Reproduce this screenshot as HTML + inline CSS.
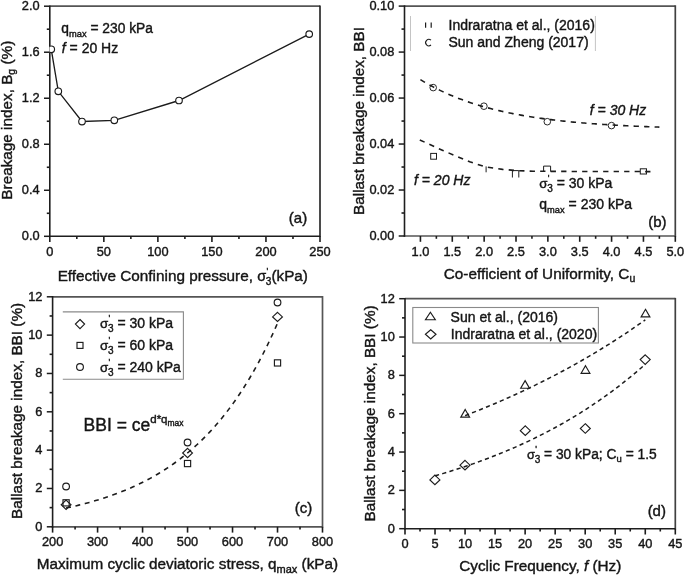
<!DOCTYPE html>
<html><head><meta charset="utf-8"><style>
html,body{margin:0;padding:0;background:#fff;}
body{width:685px;height:576px;overflow:hidden;}
svg{display:block;filter:blur(0.35px);}
text{font-family:"Liberation Sans", Arial, sans-serif;fill:#151515;stroke:#151515;stroke-width:0.4px;}
</style></head><body>
<svg width="685" height="576" viewBox="0 0 685 576">
<path d="M49.80 6.20H320.00" stroke="#555555" stroke-width="1.7"/>
<path d="M320.00 5.40V237.10" stroke="#1e1e1e" stroke-width="1.6"/>
<path d="M49.00 236.30H320.00" stroke="#1e1e1e" stroke-width="1.6"/>
<path d="M49.80 5.40V237.10" stroke="#1e1e1e" stroke-width="1.6"/>
<line x1="49.80" y1="236.30" x2="49.80" y2="242.10" stroke="#1c1c1c" stroke-width="1.6"/>
<line x1="103.84" y1="236.30" x2="103.84" y2="242.10" stroke="#1c1c1c" stroke-width="1.6"/>
<line x1="157.88" y1="236.30" x2="157.88" y2="242.10" stroke="#1c1c1c" stroke-width="1.6"/>
<line x1="211.92" y1="236.30" x2="211.92" y2="242.10" stroke="#1c1c1c" stroke-width="1.6"/>
<line x1="265.96" y1="236.30" x2="265.96" y2="242.10" stroke="#1c1c1c" stroke-width="1.6"/>
<line x1="320.00" y1="236.30" x2="320.00" y2="242.10" stroke="#1c1c1c" stroke-width="1.6"/>
<line x1="76.82" y1="236.30" x2="76.82" y2="239.10" stroke="#1c1c1c" stroke-width="1.6"/>
<line x1="130.86" y1="236.30" x2="130.86" y2="239.10" stroke="#1c1c1c" stroke-width="1.6"/>
<line x1="184.90" y1="236.30" x2="184.90" y2="239.10" stroke="#1c1c1c" stroke-width="1.6"/>
<line x1="238.94" y1="236.30" x2="238.94" y2="239.10" stroke="#1c1c1c" stroke-width="1.6"/>
<line x1="292.98" y1="236.30" x2="292.98" y2="239.10" stroke="#1c1c1c" stroke-width="1.6"/>
<text x="49.80" y="255.80" text-anchor="middle" font-size="12.8">0</text>
<text x="103.84" y="255.80" text-anchor="middle" font-size="12.8">50</text>
<text x="157.88" y="255.80" text-anchor="middle" font-size="12.8">100</text>
<text x="211.92" y="255.80" text-anchor="middle" font-size="12.8">150</text>
<text x="265.96" y="255.80" text-anchor="middle" font-size="12.8">200</text>
<text x="320.00" y="255.80" text-anchor="middle" font-size="12.8">250</text>
<line x1="49.80" y1="236.30" x2="44.00" y2="236.30" stroke="#1c1c1c" stroke-width="1.5"/>
<line x1="49.80" y1="190.28" x2="44.00" y2="190.28" stroke="#1c1c1c" stroke-width="1.5"/>
<line x1="49.80" y1="144.26" x2="44.00" y2="144.26" stroke="#1c1c1c" stroke-width="1.5"/>
<line x1="49.80" y1="98.24" x2="44.00" y2="98.24" stroke="#1c1c1c" stroke-width="1.5"/>
<line x1="49.80" y1="52.22" x2="44.00" y2="52.22" stroke="#1c1c1c" stroke-width="1.5"/>
<line x1="49.80" y1="6.20" x2="44.00" y2="6.20" stroke="#1c1c1c" stroke-width="1.5"/>
<line x1="49.80" y1="213.29" x2="46.80" y2="213.29" stroke="#1c1c1c" stroke-width="1.6"/>
<line x1="49.80" y1="167.27" x2="46.80" y2="167.27" stroke="#1c1c1c" stroke-width="1.6"/>
<line x1="49.80" y1="121.25" x2="46.80" y2="121.25" stroke="#1c1c1c" stroke-width="1.6"/>
<line x1="49.80" y1="75.23" x2="46.80" y2="75.23" stroke="#1c1c1c" stroke-width="1.6"/>
<line x1="49.80" y1="29.21" x2="46.80" y2="29.21" stroke="#1c1c1c" stroke-width="1.6"/>
<text x="39.60" y="240.20" text-anchor="end" font-size="12.8">0.0</text>
<text x="39.60" y="194.18" text-anchor="end" font-size="12.8">0.4</text>
<text x="39.60" y="148.16" text-anchor="end" font-size="12.8">0.8</text>
<text x="39.60" y="102.14" text-anchor="end" font-size="12.8">1.2</text>
<text x="39.60" y="56.12" text-anchor="end" font-size="12.8">1.6</text>
<text x="39.60" y="10.10" text-anchor="end" font-size="12.8">2.0</text>
<clipPath id="ca"><rect x="49.4" y="7.1" width="269.7" height="228.3"/></clipPath><g clip-path="url(#ca)">
<path d="M51.25 49.30L58.30 91.30L82.00 121.50L114.30 120.30L179.00 100.50L309.20 34.10" fill="none" stroke="#1c1c1c" stroke-width="1.35"/>
<circle cx="51.25" cy="49.30" r="3.3" fill="#fff" stroke="#1c1c1c" stroke-width="1.15"/>
<circle cx="58.30" cy="91.30" r="3.3" fill="#fff" stroke="#1c1c1c" stroke-width="1.15"/>
<circle cx="82.00" cy="121.50" r="3.3" fill="#fff" stroke="#1c1c1c" stroke-width="1.15"/>
<circle cx="114.30" cy="120.30" r="3.3" fill="#fff" stroke="#1c1c1c" stroke-width="1.15"/>
<circle cx="179.00" cy="100.50" r="3.3" fill="#fff" stroke="#1c1c1c" stroke-width="1.15"/>
<circle cx="309.20" cy="34.10" r="3.3" fill="#fff" stroke="#1c1c1c" stroke-width="1.15"/>
</g>
<text x="61.30" y="33.00" font-size="13.8" text-anchor="start" >q<tspan font-size="9.3" dy="3.6">max</tspan><tspan dy="-3.6"> = 230 kPa</tspan></text>
<text x="61.80" y="52.70" font-size="14" text-anchor="start" ><tspan font-style="italic">f</tspan> = 20 Hz</text>
<text x="298.00" y="223.30" font-size="15" text-anchor="middle" >(a)</text>
<text x="182.80" y="280.60" font-size="15.3" text-anchor="middle" >Effective Confining pressure, <tspan font-size="14.5">σ</tspan><tspan font-size="9" dy="-7" dx="0.3">'</tspan><tspan font-size="10" dy="11" dx="-2.3">3</tspan><tspan dy="-4">(kPa)</tspan></text>
<text transform="translate(11.80,120.20) rotate(-90)" font-size="15.3" text-anchor="middle">Breakage index, B<tspan font-size="10.5" dy="3">g</tspan><tspan dy="-3"> (%)</tspan></text>
<path d="M404.50 6.10H675.30" stroke="#555555" stroke-width="1.7"/>
<path d="M675.30 5.30V236.80" stroke="#404040" stroke-width="1.7"/>
<path d="M403.70 236.00H675.30" stroke="#555555" stroke-width="1.7"/>
<path d="M404.50 5.30V236.80" stroke="#1e1e1e" stroke-width="1.6"/>
<line x1="420.43" y1="236.00" x2="420.43" y2="241.80" stroke="#1c1c1c" stroke-width="1.6"/>
<line x1="452.29" y1="236.00" x2="452.29" y2="241.80" stroke="#1c1c1c" stroke-width="1.6"/>
<line x1="484.15" y1="236.00" x2="484.15" y2="241.80" stroke="#1c1c1c" stroke-width="1.6"/>
<line x1="516.01" y1="236.00" x2="516.01" y2="241.80" stroke="#1c1c1c" stroke-width="1.6"/>
<line x1="547.86" y1="236.00" x2="547.86" y2="241.80" stroke="#1c1c1c" stroke-width="1.6"/>
<line x1="579.72" y1="236.00" x2="579.72" y2="241.80" stroke="#1c1c1c" stroke-width="1.6"/>
<line x1="611.58" y1="236.00" x2="611.58" y2="241.80" stroke="#1c1c1c" stroke-width="1.6"/>
<line x1="643.44" y1="236.00" x2="643.44" y2="241.80" stroke="#1c1c1c" stroke-width="1.6"/>
<line x1="675.30" y1="236.00" x2="675.30" y2="241.80" stroke="#1c1c1c" stroke-width="1.6"/>
<line x1="436.36" y1="236.00" x2="436.36" y2="238.80" stroke="#1c1c1c" stroke-width="1.6"/>
<line x1="468.22" y1="236.00" x2="468.22" y2="238.80" stroke="#1c1c1c" stroke-width="1.6"/>
<line x1="500.08" y1="236.00" x2="500.08" y2="238.80" stroke="#1c1c1c" stroke-width="1.6"/>
<line x1="531.94" y1="236.00" x2="531.94" y2="238.80" stroke="#1c1c1c" stroke-width="1.6"/>
<line x1="563.79" y1="236.00" x2="563.79" y2="238.80" stroke="#1c1c1c" stroke-width="1.6"/>
<line x1="595.65" y1="236.00" x2="595.65" y2="238.80" stroke="#1c1c1c" stroke-width="1.6"/>
<line x1="627.51" y1="236.00" x2="627.51" y2="238.80" stroke="#1c1c1c" stroke-width="1.6"/>
<line x1="659.37" y1="236.00" x2="659.37" y2="238.80" stroke="#1c1c1c" stroke-width="1.6"/>
<text x="420.43" y="255.50" text-anchor="middle" font-size="12.8">1.0</text>
<text x="452.29" y="255.50" text-anchor="middle" font-size="12.8">1.5</text>
<text x="484.15" y="255.50" text-anchor="middle" font-size="12.8">2.0</text>
<text x="516.01" y="255.50" text-anchor="middle" font-size="12.8">2.5</text>
<text x="547.86" y="255.50" text-anchor="middle" font-size="12.8">3.0</text>
<text x="579.72" y="255.50" text-anchor="middle" font-size="12.8">3.5</text>
<text x="611.58" y="255.50" text-anchor="middle" font-size="12.8">4.0</text>
<text x="643.44" y="255.50" text-anchor="middle" font-size="12.8">4.5</text>
<text x="675.30" y="255.50" text-anchor="middle" font-size="12.8">5.0</text>
<line x1="404.50" y1="236.00" x2="398.70" y2="236.00" stroke="#1c1c1c" stroke-width="1.5"/>
<line x1="404.50" y1="190.02" x2="398.70" y2="190.02" stroke="#1c1c1c" stroke-width="1.5"/>
<line x1="404.50" y1="144.04" x2="398.70" y2="144.04" stroke="#1c1c1c" stroke-width="1.5"/>
<line x1="404.50" y1="98.06" x2="398.70" y2="98.06" stroke="#1c1c1c" stroke-width="1.5"/>
<line x1="404.50" y1="52.08" x2="398.70" y2="52.08" stroke="#1c1c1c" stroke-width="1.5"/>
<line x1="404.50" y1="6.10" x2="398.70" y2="6.10" stroke="#1c1c1c" stroke-width="1.5"/>
<line x1="404.50" y1="213.01" x2="401.50" y2="213.01" stroke="#1c1c1c" stroke-width="1.6"/>
<line x1="404.50" y1="167.03" x2="401.50" y2="167.03" stroke="#1c1c1c" stroke-width="1.6"/>
<line x1="404.50" y1="121.05" x2="401.50" y2="121.05" stroke="#1c1c1c" stroke-width="1.6"/>
<line x1="404.50" y1="75.07" x2="401.50" y2="75.07" stroke="#1c1c1c" stroke-width="1.6"/>
<line x1="404.50" y1="29.09" x2="401.50" y2="29.09" stroke="#1c1c1c" stroke-width="1.6"/>
<text x="394.30" y="239.90" text-anchor="end" font-size="12.8">0.00</text>
<text x="394.30" y="193.92" text-anchor="end" font-size="12.8">0.02</text>
<text x="394.30" y="147.94" text-anchor="end" font-size="12.8">0.04</text>
<text x="394.30" y="101.96" text-anchor="end" font-size="12.8">0.06</text>
<text x="394.30" y="55.98" text-anchor="end" font-size="12.8">0.08</text>
<text x="394.30" y="10.00" text-anchor="end" font-size="12.8">0.10</text>
<line x1="410.5" y1="16" x2="410.5" y2="51" stroke="#c4c4c4" stroke-width="1"/>
<line x1="595.4" y1="16" x2="595.4" y2="51" stroke="#c4c4c4" stroke-width="1"/>
<line x1="425.6" y1="22.6" x2="425.6" y2="27.8" stroke="#1c1c1c" stroke-width="1.2"/>
<line x1="431.2" y1="22.6" x2="431.2" y2="27.8" stroke="#1c1c1c" stroke-width="1.2"/>
<path d="M431.0 40.2 A3.2 3.2 0 1 0 431.0 45.0" fill="none" stroke="#1c1c1c" stroke-width="1.1"/>
<text x="448.50" y="30.20" font-size="14" text-anchor="start" >Indraratna et al., (2016)</text>
<text x="448.50" y="47.30" font-size="14" text-anchor="start" >Sun and Zheng (2017)</text>
<path d="M420.43 79.67L422.02 80.64L423.62 81.58L425.21 82.52L426.80 83.43L428.39 84.32L429.99 85.20L431.58 86.06L433.17 86.91L434.77 87.74L436.36 88.55L437.95 89.34L439.54 90.12L441.14 90.89L442.73 91.64L444.32 92.38L445.92 93.10L447.51 93.81L449.10 94.50L450.70 95.19L452.29 95.85L453.88 96.51L455.47 97.15L457.07 97.78L458.66 98.40L460.25 99.01L461.85 99.60L463.44 100.18L465.03 100.75L466.62 101.32L468.22 101.87L469.81 102.40L471.40 102.93L473.00 103.45L474.59 103.96L476.18 104.46L477.78 104.95L479.37 105.43L480.96 105.90L482.55 106.36L484.15 106.81L485.74 107.26L487.33 107.69L488.93 108.12L490.52 108.54L492.11 108.95L493.70 109.35L495.30 109.74L496.89 110.13L498.48 110.51L500.08 110.88L501.67 111.25L503.26 111.61L504.86 111.96L506.45 112.30L508.04 112.64L509.63 112.97L511.23 113.29L512.82 113.61L514.41 113.92L516.01 114.23L517.60 114.53L519.19 114.83L520.78 115.12L522.38 115.40L523.97 115.68L525.56 115.95L527.16 116.22L528.75 116.48L530.34 116.73L531.94 116.99L533.53 117.23L535.12 117.48L536.71 117.71L538.31 117.95L539.90 118.18L541.49 118.40L543.09 118.62L544.68 118.84L546.27 119.05L547.86 119.25L549.46 119.46L551.05 119.66L552.64 119.85L554.24 120.04L555.83 120.23L557.42 120.42L559.02 120.60L560.61 120.78L562.20 120.95L563.79 121.12L565.39 121.29L566.98 121.45L568.57 121.61L570.17 121.77L571.76 121.93L573.35 122.08L574.94 122.23L576.54 122.37L578.13 122.52L579.72 122.66L581.32 122.79L582.91 122.93L584.50 123.06L586.10 123.19L587.69 123.32L589.28 123.44L590.87 123.57L592.47 123.69L594.06 123.80L595.65 123.92L597.25 124.03L598.84 124.14L600.43 124.25L602.02 124.36L603.62 124.46L605.21 124.57L606.80 124.67L608.40 124.77L609.99 124.86L611.58 124.96L613.18 125.05L614.77 125.14L616.36 125.23L617.95 125.32L619.55 125.41L621.14 125.49L622.73 125.57L624.33 125.66L625.92 125.74L627.51 125.81L629.10 125.89L630.70 125.97L632.29 126.04L633.88 126.11L635.48 126.18L637.07 126.25L638.66 126.32L640.26 126.39L641.85 126.45L643.44 126.52L645.03 126.58L646.63 126.64L648.22 126.70L649.81 126.76L651.41 126.82L653.00 126.88L654.59 126.93L656.18 126.99L657.78 127.04L659.37 127.10" fill="none" stroke="#1c1c1c" stroke-width="1.6" stroke-dasharray="5.3 5.2"/>
<path d="M419.80 139.90L443.50 150.80L469.70 161.70L485.00 166.80L502.60 169.40L517.90 170.70L533.20 171.20L557.30 171.40L654.40 171.60" fill="none" stroke="#1c1c1c" stroke-width="1.6" stroke-dasharray="5.3 5.2"/>
<circle cx="433.20" cy="87.60" r="3.3" fill="none" stroke="#1c1c1c" stroke-width="0.95"/>
<circle cx="483.90" cy="106.20" r="3.3" fill="none" stroke="#1c1c1c" stroke-width="0.95"/>
<circle cx="547.30" cy="121.70" r="3.3" fill="none" stroke="#1c1c1c" stroke-width="0.95"/>
<circle cx="611.50" cy="125.60" r="3.3" fill="none" stroke="#1c1c1c" stroke-width="0.95"/>
<rect x="430.70" y="153.40" width="5.8" height="5.8" fill="none" stroke="#1c1c1c" stroke-width="1.0"/>
<path d="M486.1 166.4V172.3" stroke="#1c1c1c" stroke-width="1.0" fill="none"/>
<path d="M512.4 177.5V170.6H518.8V177.5" stroke="#1c1c1c" stroke-width="1.0" fill="none"/>
<path d="M543.6 171.7V166.1H550.6V171.7" stroke="#1c1c1c" stroke-width="1.0" fill="none"/>
<rect x="640.3" y="168.8" width="6.2" height="5.2" stroke="#1c1c1c" stroke-width="1.0" fill="none"/>
<text x="589.80" y="115.20" font-size="14" text-anchor="start" ><tspan font-style="italic">f = 30 Hz</tspan></text>
<text x="414.00" y="184.70" font-size="14" text-anchor="start" ><tspan font-style="italic">f = 20 Hz</tspan></text>
<text x="539.30" y="188.00" font-size="14" text-anchor="start" ><tspan font-size="13.3">σ</tspan><tspan font-size="9" dy="-7" dx="0.3">'</tspan><tspan font-size="10" dy="11" dx="-2.3">3</tspan><tspan dy="-4"> = 30 kPa</tspan></text>
<text x="539.30" y="208.60" font-size="14" text-anchor="start" >q<tspan font-size="9.3" dy="4">max</tspan><tspan dy="-4"> = 230 kPa</tspan></text>
<text x="657.40" y="227.30" font-size="15" text-anchor="middle" >(b)</text>
<text x="539.50" y="279.30" font-size="15.3" text-anchor="middle" >Co-efficient of Uniformity, C<tspan font-size="10.5" dy="3">u</tspan></text>
<text transform="translate(363.80,121.00) rotate(-90)" font-size="15.3" text-anchor="middle">Ballast breakage index, BBI</text>
<path d="M52.60 296.80H322.50" stroke="#555555" stroke-width="1.7"/>
<path d="M322.50 296.00V527.60" stroke="#555555" stroke-width="1.7"/>
<path d="M51.80 526.80H322.50" stroke="#555555" stroke-width="1.7"/>
<path d="M52.60 296.00V527.60" stroke="#1e1e1e" stroke-width="1.6"/>
<line x1="52.60" y1="526.80" x2="52.60" y2="532.60" stroke="#1c1c1c" stroke-width="1.6"/>
<line x1="97.58" y1="526.80" x2="97.58" y2="532.60" stroke="#1c1c1c" stroke-width="1.6"/>
<line x1="142.57" y1="526.80" x2="142.57" y2="532.60" stroke="#1c1c1c" stroke-width="1.6"/>
<line x1="187.55" y1="526.80" x2="187.55" y2="532.60" stroke="#1c1c1c" stroke-width="1.6"/>
<line x1="232.53" y1="526.80" x2="232.53" y2="532.60" stroke="#1c1c1c" stroke-width="1.6"/>
<line x1="277.52" y1="526.80" x2="277.52" y2="532.60" stroke="#1c1c1c" stroke-width="1.6"/>
<line x1="322.50" y1="526.80" x2="322.50" y2="532.60" stroke="#1c1c1c" stroke-width="1.6"/>
<line x1="75.09" y1="526.80" x2="75.09" y2="529.60" stroke="#1c1c1c" stroke-width="1.6"/>
<line x1="120.07" y1="526.80" x2="120.07" y2="529.60" stroke="#1c1c1c" stroke-width="1.6"/>
<line x1="165.06" y1="526.80" x2="165.06" y2="529.60" stroke="#1c1c1c" stroke-width="1.6"/>
<line x1="210.04" y1="526.80" x2="210.04" y2="529.60" stroke="#1c1c1c" stroke-width="1.6"/>
<line x1="255.02" y1="526.80" x2="255.02" y2="529.60" stroke="#1c1c1c" stroke-width="1.6"/>
<line x1="300.01" y1="526.80" x2="300.01" y2="529.60" stroke="#1c1c1c" stroke-width="1.6"/>
<text x="52.60" y="546.30" text-anchor="middle" font-size="12.8">200</text>
<text x="97.58" y="546.30" text-anchor="middle" font-size="12.8">300</text>
<text x="142.57" y="546.30" text-anchor="middle" font-size="12.8">400</text>
<text x="187.55" y="546.30" text-anchor="middle" font-size="12.8">500</text>
<text x="232.53" y="546.30" text-anchor="middle" font-size="12.8">600</text>
<text x="277.52" y="546.30" text-anchor="middle" font-size="12.8">700</text>
<text x="322.50" y="546.30" text-anchor="middle" font-size="12.8">800</text>
<line x1="52.60" y1="526.80" x2="46.80" y2="526.80" stroke="#1c1c1c" stroke-width="1.5"/>
<line x1="52.60" y1="488.47" x2="46.80" y2="488.47" stroke="#1c1c1c" stroke-width="1.5"/>
<line x1="52.60" y1="450.13" x2="46.80" y2="450.13" stroke="#1c1c1c" stroke-width="1.5"/>
<line x1="52.60" y1="411.80" x2="46.80" y2="411.80" stroke="#1c1c1c" stroke-width="1.5"/>
<line x1="52.60" y1="373.47" x2="46.80" y2="373.47" stroke="#1c1c1c" stroke-width="1.5"/>
<line x1="52.60" y1="335.13" x2="46.80" y2="335.13" stroke="#1c1c1c" stroke-width="1.5"/>
<line x1="52.60" y1="296.80" x2="46.80" y2="296.80" stroke="#1c1c1c" stroke-width="1.5"/>
<line x1="52.60" y1="507.63" x2="49.60" y2="507.63" stroke="#1c1c1c" stroke-width="1.6"/>
<line x1="52.60" y1="469.30" x2="49.60" y2="469.30" stroke="#1c1c1c" stroke-width="1.6"/>
<line x1="52.60" y1="430.97" x2="49.60" y2="430.97" stroke="#1c1c1c" stroke-width="1.6"/>
<line x1="52.60" y1="392.63" x2="49.60" y2="392.63" stroke="#1c1c1c" stroke-width="1.6"/>
<line x1="52.60" y1="354.30" x2="49.60" y2="354.30" stroke="#1c1c1c" stroke-width="1.6"/>
<line x1="52.60" y1="315.97" x2="49.60" y2="315.97" stroke="#1c1c1c" stroke-width="1.6"/>
<text x="42.40" y="530.70" text-anchor="end" font-size="12.8">0</text>
<text x="42.40" y="492.37" text-anchor="end" font-size="12.8">2</text>
<text x="42.40" y="454.03" text-anchor="end" font-size="12.8">4</text>
<text x="42.40" y="415.70" text-anchor="end" font-size="12.8">6</text>
<text x="42.40" y="377.37" text-anchor="end" font-size="12.8">8</text>
<text x="42.40" y="339.03" text-anchor="end" font-size="12.8">10</text>
<text x="42.40" y="300.70" text-anchor="end" font-size="12.8">12</text>
<path d="M62.8 311.9H183.4V379.3H62.8" fill="#fff" stroke="#8a8a8a" stroke-width="1.1"/>
<path d="M66.09 508.03L68.21 507.58L70.32 507.12L72.44 506.64L74.55 506.16L76.67 505.66L78.78 505.15L80.89 504.63L83.01 504.09L85.12 503.54L87.24 502.98L89.35 502.41L91.47 501.82L93.58 501.22L95.69 500.60L97.81 499.97L99.92 499.32L102.04 498.66L104.15 497.98L106.27 497.28L108.38 496.57L110.49 495.84L112.61 495.09L114.72 494.33L116.84 493.54L118.95 492.74L121.06 491.92L123.18 491.08L125.29 490.22L127.41 489.33L129.52 488.43L131.64 487.50L133.75 486.56L135.86 485.59L137.98 484.59L140.09 483.57L142.21 482.53L144.32 481.46L146.44 480.37L148.55 479.25L150.66 478.10L152.78 476.93L154.89 475.72L157.01 474.49L159.12 473.23L161.23 471.93L163.35 470.61L165.46 469.26L167.58 467.87L169.69 466.45L171.81 464.99L173.92 463.50L176.03 461.97L178.15 460.41L180.26 458.80L182.38 457.16L184.49 455.48L186.61 453.76L188.72 452.00L190.83 450.20L192.95 448.35L195.06 446.46L197.18 444.52L199.29 442.53L201.40 440.50L203.52 438.42L205.63 436.28L207.75 434.10L209.86 431.86L211.98 429.57L214.09 427.23L216.20 424.82L218.32 422.36L220.43 419.84L222.55 417.26L224.66 414.62L226.78 411.91L228.89 409.14L231.00 406.30L233.12 403.40L235.23 400.42L237.35 397.37L239.46 394.25L241.57 391.05L243.69 387.77L245.80 384.42L247.92 380.98L250.03 377.47L252.15 373.86L254.26 370.17L256.37 366.39L258.49 362.52L260.60 358.56L262.72 354.50L264.83 350.34L266.95 346.09L269.06 341.73L271.17 337.26L273.29 332.69L275.40 328.00L277.52 323.21" fill="none" stroke="#1c1c1c" stroke-width="1.6" stroke-dasharray="4.9 4.7"/>
<path d="M66.09 500.16L71.00 504.76L66.09 509.36L61.20 504.76Z" fill="none" stroke="#1c1c1c" stroke-width="1.15"/>
<path d="M187.55 448.41L192.45 453.01L187.55 457.61L182.65 453.01Z" fill="none" stroke="#1c1c1c" stroke-width="1.15"/>
<path d="M277.52 312.32L282.42 316.93L277.52 321.53L272.62 316.93Z" fill="none" stroke="#1c1c1c" stroke-width="1.15"/>
<rect x="62.99" y="499.74" width="6.2" height="6.2" fill="none" stroke="#1c1c1c" stroke-width="1.15"/>
<rect x="184.45" y="460.45" width="6.2" height="6.2" fill="none" stroke="#1c1c1c" stroke-width="1.15"/>
<rect x="274.42" y="359.82" width="6.2" height="6.2" fill="none" stroke="#1c1c1c" stroke-width="1.15"/>
<circle cx="66.09" cy="486.55" r="3.35" fill="none" stroke="#1c1c1c" stroke-width="1.15"/>
<circle cx="187.55" cy="442.47" r="3.35" fill="none" stroke="#1c1c1c" stroke-width="1.15"/>
<circle cx="277.52" cy="302.55" r="3.35" fill="none" stroke="#1c1c1c" stroke-width="1.15"/>
<path d="M80.00 319.50L84.60 324.10L80.00 328.70L75.40 324.10Z" fill="none" stroke="#1c1c1c" stroke-width="1.15"/>
<rect x="77.00" y="342.40" width="6.0" height="6.0" fill="none" stroke="#1c1c1c" stroke-width="1.15"/>
<circle cx="80.00" cy="367.00" r="3.4" fill="none" stroke="#1c1c1c" stroke-width="1.15"/>
<text x="100.00" y="327.60" font-size="14" text-anchor="start" ><tspan font-size="13.3">σ</tspan><tspan font-size="9" dy="-7" dx="0.3">'</tspan><tspan font-size="10" dy="11" dx="-2.3">3</tspan><tspan dy="-4"> = 30 kPa</tspan></text>
<text x="100.00" y="349.70" font-size="14" text-anchor="start" ><tspan font-size="13.3">σ</tspan><tspan font-size="9" dy="-7" dx="0.3">'</tspan><tspan font-size="10" dy="11" dx="-2.3">3</tspan><tspan dy="-4"> = 60 kPa</tspan></text>
<text x="100.00" y="371.60" font-size="14" text-anchor="start" ><tspan font-size="13.3">σ</tspan><tspan font-size="9" dy="-7" dx="0.3">'</tspan><tspan font-size="10" dy="11" dx="-2.3">3</tspan><tspan dy="-4"> = 240 kPa</tspan></text>
<text x="83.60" y="430.80" font-size="17.5" text-anchor="start" >BBI = ce<tspan font-size="11.5" dy="-7.5">d*q</tspan><tspan font-size="8.5" dy="2.2">max</tspan></text>
<text x="303.60" y="513.40" font-size="15" text-anchor="middle" >(c)</text>
<text x="187.50" y="569.40" font-size="15.3" text-anchor="middle" >Maximum cyclic deviatoric stress, q<tspan font-size="11" dy="3.8">max</tspan><tspan dy="-3.8"> (kPa)</tspan></text>
<text transform="translate(21.80,410.90) rotate(-90)" font-size="15.3" text-anchor="middle">Ballast breakage index, BBI (%)</text>
<path d="M405.00 298.70H675.30" stroke="#555555" stroke-width="1.7"/>
<path d="M675.30 297.90V529.50" stroke="#404040" stroke-width="1.7"/>
<path d="M404.20 528.70H675.30" stroke="#1e1e1e" stroke-width="1.6"/>
<path d="M405.00 297.90V529.50" stroke="#1e1e1e" stroke-width="1.6"/>
<line x1="405.00" y1="528.70" x2="405.00" y2="534.50" stroke="#1c1c1c" stroke-width="1.6"/>
<line x1="435.03" y1="528.70" x2="435.03" y2="534.50" stroke="#1c1c1c" stroke-width="1.6"/>
<line x1="465.07" y1="528.70" x2="465.07" y2="534.50" stroke="#1c1c1c" stroke-width="1.6"/>
<line x1="495.10" y1="528.70" x2="495.10" y2="534.50" stroke="#1c1c1c" stroke-width="1.6"/>
<line x1="525.13" y1="528.70" x2="525.13" y2="534.50" stroke="#1c1c1c" stroke-width="1.6"/>
<line x1="555.17" y1="528.70" x2="555.17" y2="534.50" stroke="#1c1c1c" stroke-width="1.6"/>
<line x1="585.20" y1="528.70" x2="585.20" y2="534.50" stroke="#1c1c1c" stroke-width="1.6"/>
<line x1="615.23" y1="528.70" x2="615.23" y2="534.50" stroke="#1c1c1c" stroke-width="1.6"/>
<line x1="645.27" y1="528.70" x2="645.27" y2="534.50" stroke="#1c1c1c" stroke-width="1.6"/>
<line x1="675.30" y1="528.70" x2="675.30" y2="534.50" stroke="#1c1c1c" stroke-width="1.6"/>
<line x1="420.02" y1="528.70" x2="420.02" y2="531.50" stroke="#1c1c1c" stroke-width="1.6"/>
<line x1="450.05" y1="528.70" x2="450.05" y2="531.50" stroke="#1c1c1c" stroke-width="1.6"/>
<line x1="480.08" y1="528.70" x2="480.08" y2="531.50" stroke="#1c1c1c" stroke-width="1.6"/>
<line x1="510.12" y1="528.70" x2="510.12" y2="531.50" stroke="#1c1c1c" stroke-width="1.6"/>
<line x1="540.15" y1="528.70" x2="540.15" y2="531.50" stroke="#1c1c1c" stroke-width="1.6"/>
<line x1="570.18" y1="528.70" x2="570.18" y2="531.50" stroke="#1c1c1c" stroke-width="1.6"/>
<line x1="600.22" y1="528.70" x2="600.22" y2="531.50" stroke="#1c1c1c" stroke-width="1.6"/>
<line x1="630.25" y1="528.70" x2="630.25" y2="531.50" stroke="#1c1c1c" stroke-width="1.6"/>
<line x1="660.28" y1="528.70" x2="660.28" y2="531.50" stroke="#1c1c1c" stroke-width="1.6"/>
<text x="405.00" y="548.20" text-anchor="middle" font-size="12.8">0</text>
<text x="435.03" y="548.20" text-anchor="middle" font-size="12.8">5</text>
<text x="465.07" y="548.20" text-anchor="middle" font-size="12.8">10</text>
<text x="495.10" y="548.20" text-anchor="middle" font-size="12.8">15</text>
<text x="525.13" y="548.20" text-anchor="middle" font-size="12.8">20</text>
<text x="555.17" y="548.20" text-anchor="middle" font-size="12.8">25</text>
<text x="585.20" y="548.20" text-anchor="middle" font-size="12.8">30</text>
<text x="615.23" y="548.20" text-anchor="middle" font-size="12.8">35</text>
<text x="645.27" y="548.20" text-anchor="middle" font-size="12.8">40</text>
<text x="675.30" y="548.20" text-anchor="middle" font-size="12.8">45</text>
<line x1="405.00" y1="528.70" x2="399.20" y2="528.70" stroke="#1c1c1c" stroke-width="1.5"/>
<line x1="405.00" y1="490.37" x2="399.20" y2="490.37" stroke="#1c1c1c" stroke-width="1.5"/>
<line x1="405.00" y1="452.03" x2="399.20" y2="452.03" stroke="#1c1c1c" stroke-width="1.5"/>
<line x1="405.00" y1="413.70" x2="399.20" y2="413.70" stroke="#1c1c1c" stroke-width="1.5"/>
<line x1="405.00" y1="375.37" x2="399.20" y2="375.37" stroke="#1c1c1c" stroke-width="1.5"/>
<line x1="405.00" y1="337.03" x2="399.20" y2="337.03" stroke="#1c1c1c" stroke-width="1.5"/>
<line x1="405.00" y1="298.70" x2="399.20" y2="298.70" stroke="#1c1c1c" stroke-width="1.5"/>
<line x1="405.00" y1="509.53" x2="402.00" y2="509.53" stroke="#1c1c1c" stroke-width="1.6"/>
<line x1="405.00" y1="471.20" x2="402.00" y2="471.20" stroke="#1c1c1c" stroke-width="1.6"/>
<line x1="405.00" y1="432.87" x2="402.00" y2="432.87" stroke="#1c1c1c" stroke-width="1.6"/>
<line x1="405.00" y1="394.53" x2="402.00" y2="394.53" stroke="#1c1c1c" stroke-width="1.6"/>
<line x1="405.00" y1="356.20" x2="402.00" y2="356.20" stroke="#1c1c1c" stroke-width="1.6"/>
<line x1="405.00" y1="317.87" x2="402.00" y2="317.87" stroke="#1c1c1c" stroke-width="1.6"/>
<text x="394.80" y="532.60" text-anchor="end" font-size="12.8">0</text>
<text x="394.80" y="494.27" text-anchor="end" font-size="12.8">2</text>
<text x="394.80" y="455.93" text-anchor="end" font-size="12.8">4</text>
<text x="394.80" y="417.60" text-anchor="end" font-size="12.8">6</text>
<text x="394.80" y="379.27" text-anchor="end" font-size="12.8">8</text>
<text x="394.80" y="340.93" text-anchor="end" font-size="12.8">10</text>
<text x="394.80" y="302.60" text-anchor="end" font-size="12.8">12</text>
<rect x="412.8" y="307.5" width="185.6" height="35.5" fill="#fff" stroke="#8a8a8a" stroke-width="1.1"/>
<path d="M465.07 415.63L466.87 414.93L468.67 414.23L470.47 413.53L472.27 412.82L474.08 412.11L475.88 411.39L477.68 410.67L479.48 409.94L481.28 409.21L483.09 408.48L484.89 407.74L486.69 406.99L488.49 406.25L490.29 405.49L492.10 404.73L493.90 403.97L495.70 403.21L497.50 402.43L499.30 401.66L501.11 400.88L502.91 400.09L504.71 399.30L506.51 398.50L508.31 397.70L510.12 396.90L511.92 396.08L513.72 395.27L515.52 394.45L517.32 393.62L519.13 392.79L520.93 391.96L522.73 391.11L524.53 390.27L526.33 389.42L528.14 388.56L529.94 387.70L531.74 386.83L533.54 385.96L535.34 385.08L537.15 384.20L538.95 383.31L540.75 382.41L542.55 381.51L544.35 380.61L546.16 379.70L547.96 378.78L549.76 377.86L551.56 376.93L553.36 376.00L555.17 375.06L556.97 374.11L558.77 373.16L560.57 372.21L562.37 371.24L564.18 370.28L565.98 369.30L567.78 368.32L569.58 367.33L571.38 366.34L573.19 365.34L574.99 364.34L576.79 363.33L578.59 362.31L580.39 361.29L582.20 360.26L584.00 359.22L585.80 358.18L587.60 357.13L589.40 356.07L591.21 355.01L593.01 353.94L594.81 352.87L596.61 351.79L598.41 350.70L600.22 349.60L602.02 348.50L603.82 347.39L605.62 346.28L607.42 345.16L609.23 344.03L611.03 342.89L612.83 341.75L614.63 340.60L616.43 339.44L618.24 338.28L620.04 337.11L621.84 335.93L623.64 334.74L625.44 333.55L627.25 332.35L629.05 331.14L630.85 329.93L632.65 328.70L634.45 327.47L636.26 326.24L638.06 324.99L639.86 323.74L641.66 322.48L643.46 321.21L645.27 319.93" fill="none" stroke="#1c1c1c" stroke-width="1.5" stroke-dasharray="4.2 3.3"/>
<path d="M435.03 475.82L437.14 475.21L439.24 474.60L441.34 473.99L443.44 473.36L445.55 472.73L447.65 472.09L449.75 471.45L451.85 470.79L453.95 470.13L456.06 469.46L458.16 468.79L460.26 468.11L462.36 467.41L464.47 466.71L466.57 466.01L468.67 465.29L470.77 464.57L472.88 463.84L474.98 463.10L477.08 462.35L479.18 461.59L481.28 460.83L483.39 460.05L485.49 459.27L487.59 458.48L489.69 457.67L491.80 456.86L493.90 456.04L496.00 455.22L498.10 454.38L500.21 453.53L502.31 452.67L504.41 451.80L506.51 450.93L508.62 450.04L510.72 449.14L512.82 448.23L514.92 447.32L517.02 446.39L519.13 445.45L521.23 444.50L523.33 443.54L525.43 442.57L527.54 441.58L529.64 440.59L531.74 439.59L533.84 438.57L535.95 437.54L538.05 436.50L540.15 435.45L542.25 434.38L544.35 433.31L546.46 432.22L548.56 431.12L550.66 430.01L552.76 428.88L554.87 427.74L556.97 426.59L559.07 425.42L561.17 424.25L563.28 423.05L565.38 421.85L567.48 420.63L569.58 419.40L571.68 418.15L573.79 416.89L575.89 415.61L577.99 414.32L580.09 413.02L582.20 411.70L584.30 410.36L586.40 409.01L588.50 407.65L590.61 406.27L592.71 404.87L594.81 403.46L596.91 402.03L599.02 400.58L601.12 399.12L603.22 397.64L605.32 396.15L607.42 394.63L609.53 393.10L611.63 391.56L613.73 389.99L615.83 388.41L617.94 386.81L620.04 385.19L622.14 383.55L624.24 381.90L626.35 380.22L628.45 378.53L630.55 376.82L632.65 375.08L634.75 373.33L636.86 371.56L638.96 369.76L641.06 367.95L643.16 366.12L645.27 364.26" fill="none" stroke="#1c1c1c" stroke-width="1.5" stroke-dasharray="4.2 3.3"/>
<path d="M465.20 409.50L469.60 417.10L460.80 417.10Z" fill="none" stroke="#1c1c1c" stroke-width="1.15" stroke-linejoin="miter"/>
<path d="M525.10 380.60L529.50 388.20L520.70 388.20Z" fill="none" stroke="#1c1c1c" stroke-width="1.15" stroke-linejoin="miter"/>
<path d="M585.50 365.70L589.90 373.30L581.10 373.30Z" fill="none" stroke="#1c1c1c" stroke-width="1.15" stroke-linejoin="miter"/>
<path d="M645.50 309.30L649.90 316.90L641.10 316.90Z" fill="none" stroke="#1c1c1c" stroke-width="1.15" stroke-linejoin="miter"/>
<path d="M434.90 475.10L439.90 479.90L434.90 484.70L429.90 479.90Z" fill="none" stroke="#1c1c1c" stroke-width="1.15"/>
<path d="M465.00 460.40L470.00 465.20L465.00 470.00L460.00 465.20Z" fill="none" stroke="#1c1c1c" stroke-width="1.15"/>
<path d="M525.30 425.90L530.30 430.70L525.30 435.50L520.30 430.70Z" fill="none" stroke="#1c1c1c" stroke-width="1.15"/>
<path d="M585.30 423.70L590.30 428.50L585.30 433.30L580.30 428.50Z" fill="none" stroke="#1c1c1c" stroke-width="1.15"/>
<path d="M645.20 354.80L650.20 359.60L645.20 364.40L640.20 359.60Z" fill="none" stroke="#1c1c1c" stroke-width="1.15"/>
<path d="M430.40 312.30L435.30 319.70L425.50 319.70Z" fill="none" stroke="#1c1c1c" stroke-width="1.15" stroke-linejoin="miter"/>
<path d="M430.70 329.70L436.00 334.30L430.70 338.90L425.40 334.30Z" fill="none" stroke="#1c1c1c" stroke-width="1.15"/>
<text x="450.60" y="321.50" font-size="14" text-anchor="start" >Sun et al., (2016)</text>
<text x="450.80" y="338.90" font-size="14" text-anchor="start" >Indraratna et al., (2020)</text>
<text x="527.00" y="458.60" font-size="13.8" text-anchor="start" ><tspan font-size="12.8">σ</tspan><tspan font-size="9" dy="-7" dx="0.3">'</tspan><tspan font-size="10" dy="11" dx="-2.3">3</tspan><tspan dy="-4"> = 30 kPa; C</tspan><tspan font-size="9.5" dy="3">u</tspan><tspan dy="-3"> = 1.5</tspan></text>
<text x="656.80" y="516.00" font-size="15" text-anchor="middle" >(d)</text>
<text x="540.30" y="570.50" font-size="15.3" text-anchor="middle" >Cyclic Frequency, <tspan font-style="italic">f</tspan> (Hz)</text>
<text transform="translate(375.30,413.40) rotate(-90)" font-size="15.3" text-anchor="middle">Ballast breakage index, BBI (%)</text>
</svg>
</body></html>
